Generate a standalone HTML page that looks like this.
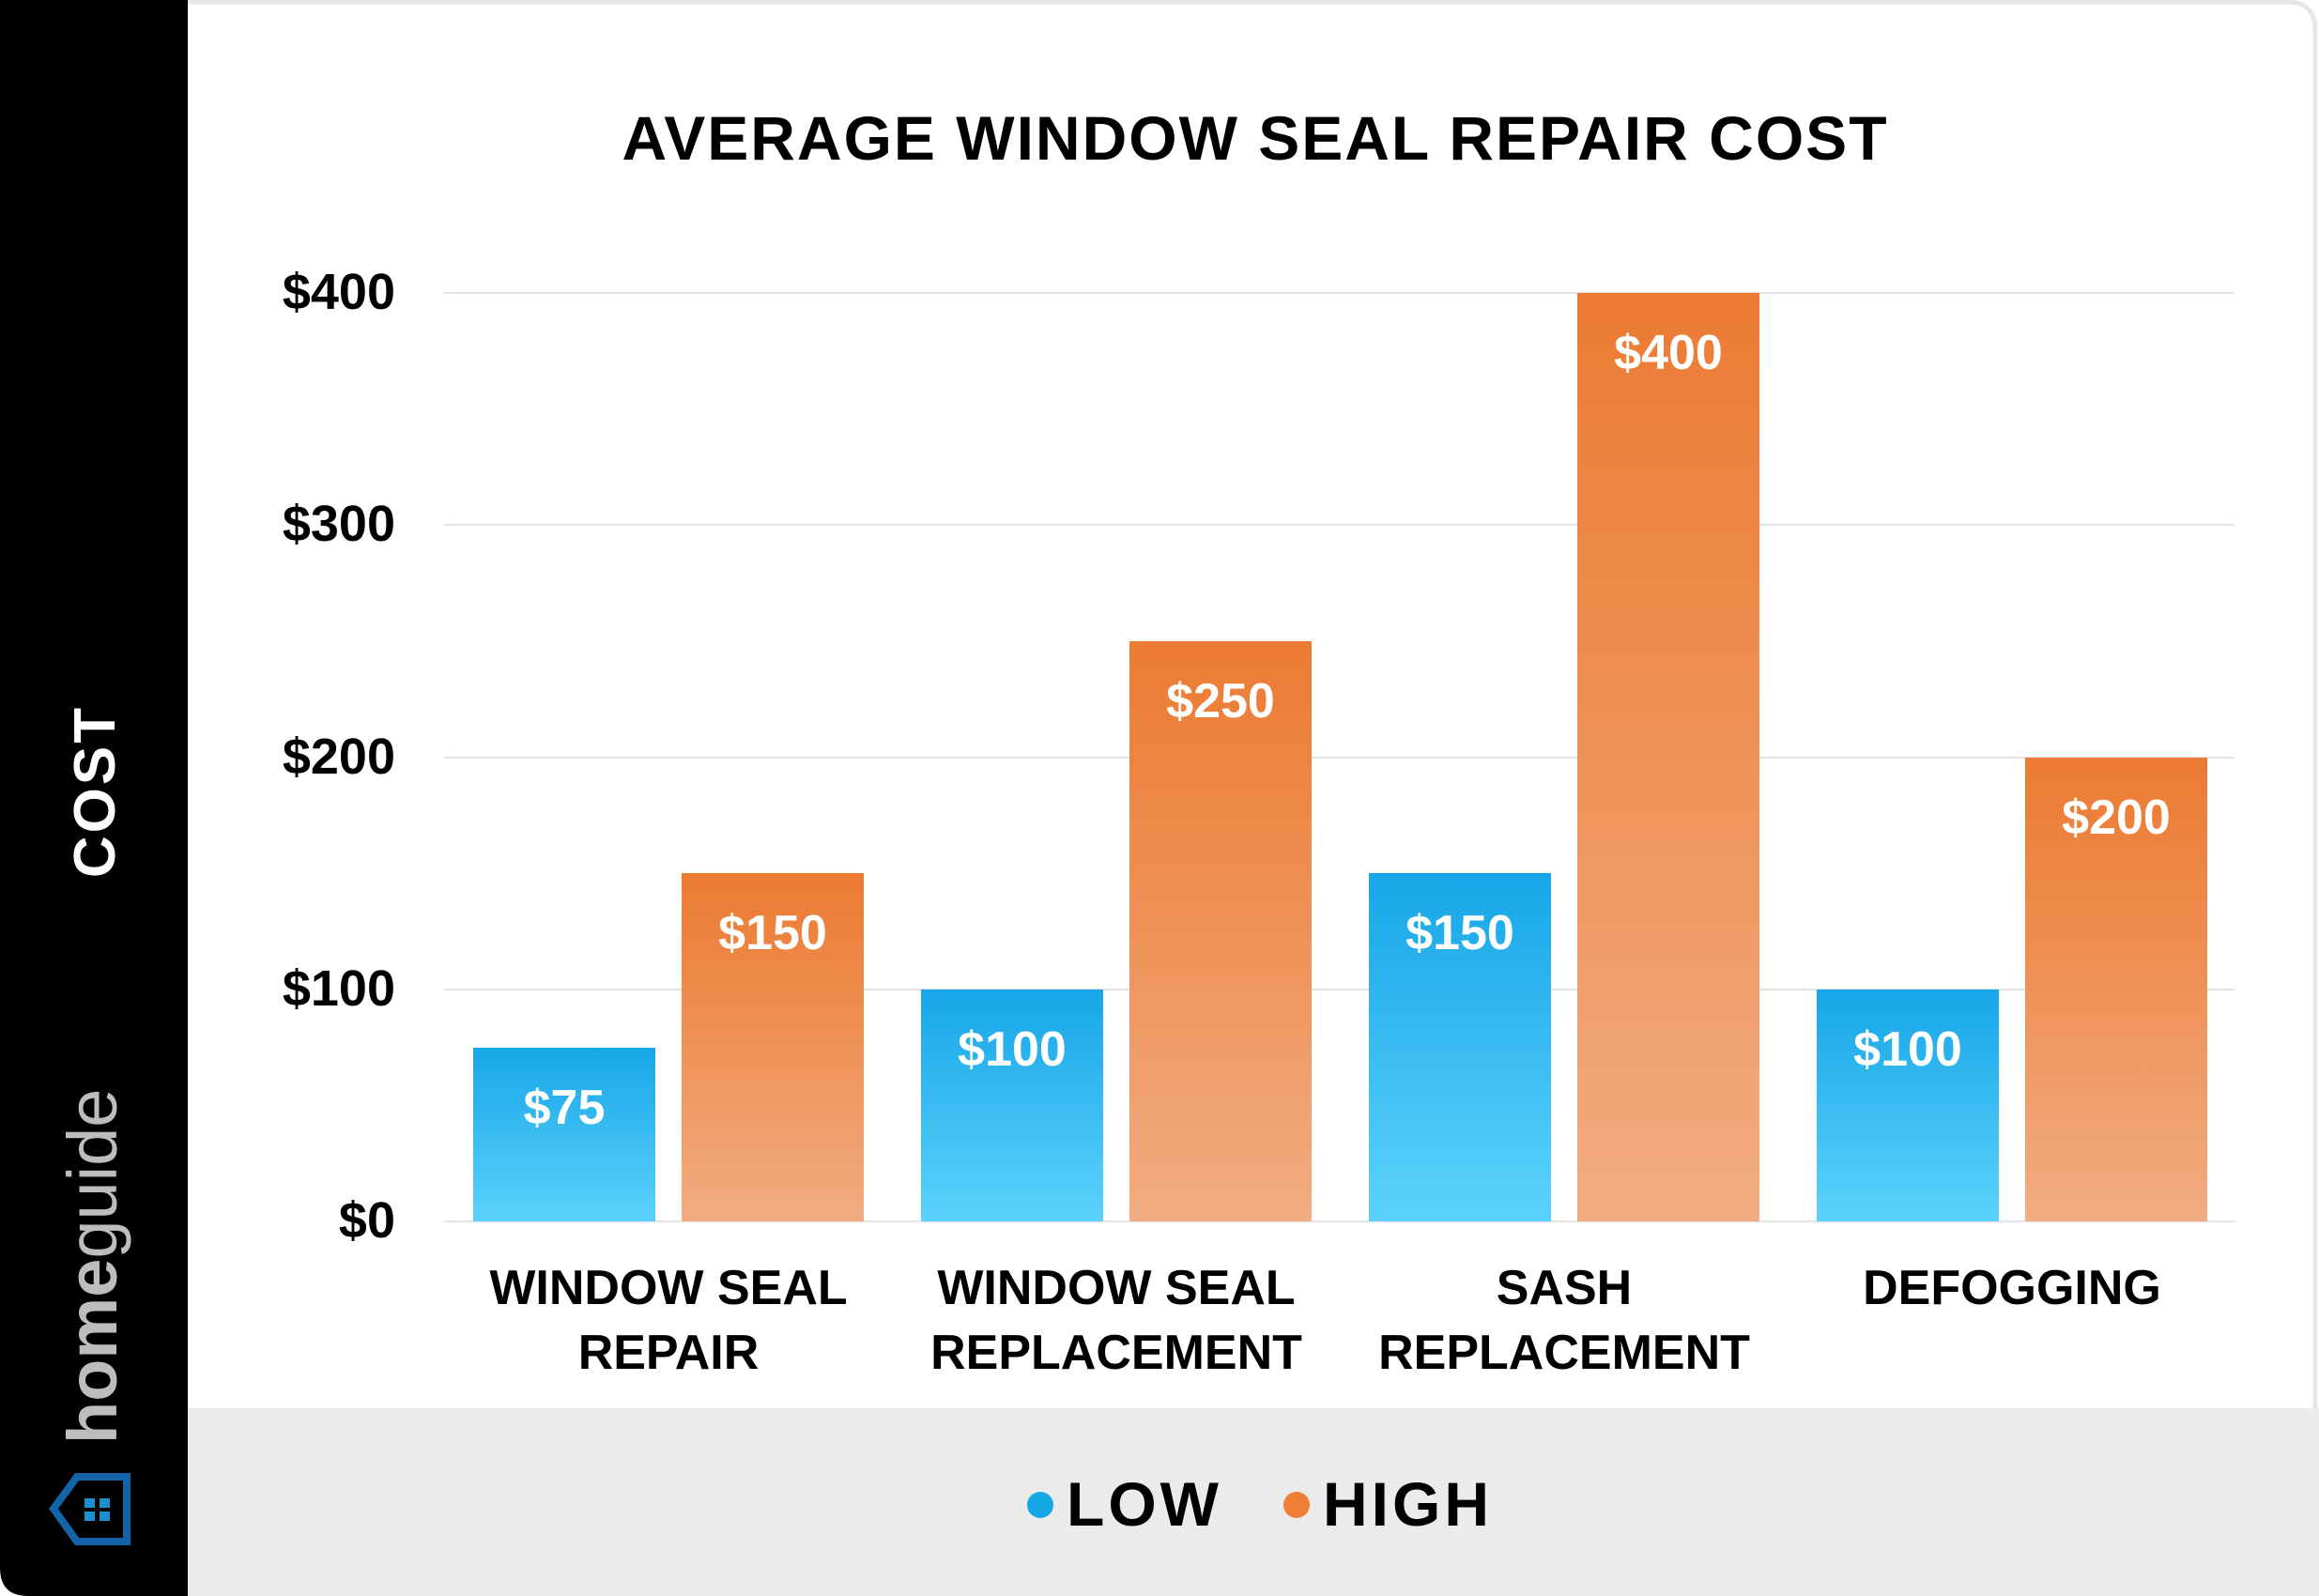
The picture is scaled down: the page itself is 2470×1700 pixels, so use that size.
<!DOCTYPE html>
<html><head><meta charset="utf-8"><style>
html,body{margin:0;padding:0;background:#fff;}
svg{display:block;}
text{font-family:"Liberation Sans",sans-serif;font-weight:bold;}
</style></head><body>
<svg width="2470" height="1700" viewBox="0 0 2470 1700" xmlns="http://www.w3.org/2000/svg">
<defs>
<linearGradient id="b" x1="0" y1="0" x2="0" y2="1"><stop offset="0" stop-color="#17a6e8"/><stop offset="1" stop-color="#5cd2fb"/></linearGradient>
<linearGradient id="o" x1="0" y1="0" x2="0" y2="1"><stop offset="0" stop-color="#ec7b33"/><stop offset="0.4" stop-color="#ee8d4f"/><stop offset="1" stop-color="#f2ac82"/></linearGradient>
</defs>
<rect x="0" y="0" width="2470" height="1700" fill="#fff"/>
<path d="M180 2 H2436 Q2466 2 2466 32 V1700" fill="none" stroke="#e6e6e6" stroke-width="5"/>
<rect x="200" y="1500" width="2270" height="200" fill="#ebebeb"/>
<path d="M0 0 H200 V1700 H30 Q0 1700 0 1670 Z" fill="#000"/>
<text transform="translate(122,843) rotate(-90)" text-anchor="middle" font-size="62" fill="#fff" letter-spacing="3">COST</text>
<text transform="translate(124,1538) rotate(-90)" font-size="74" fill="#bdbdbd" style="font-weight:normal"><tspan style="font-weight:bold">home</tspan>guide</text>
<path d="M135 1573 V1642 H82 L57 1607 L82 1573 Z" fill="none" stroke="#1363a8" stroke-width="8" stroke-linejoin="miter"/>
<g fill="#1b8fd0"><rect x="90" y="1596" width="11" height="10"/><rect x="106" y="1596" width="11" height="10"/><rect x="90" y="1610" width="11" height="10"/><rect x="106" y="1610" width="11" height="10"/></g>
<text x="1337" y="170" text-anchor="middle" font-size="66" fill="#000" letter-spacing="2">AVERAGE WINDOW SEAL REPAIR COST</text>
<g stroke="#e3e3e3" stroke-width="2">
<line x1="473" y1="312" x2="2380" y2="312"/><line x1="473" y1="559" x2="2380" y2="559"/><line x1="473" y1="807" x2="2380" y2="807"/><line x1="473" y1="1054" x2="2380" y2="1054"/><line x1="473" y1="1301" x2="2380" y2="1301"/>
</g>
<g font-size="54" fill="#000" text-anchor="end">
<text x="421" y="329">$400</text><text x="421" y="576">$300</text><text x="421" y="824">$200</text><text x="421" y="1071">$100</text><text x="421" y="1318">$0</text>
</g>
<g>
<rect x="504" y="1116" width="194" height="185" fill="url(#b)"/>
<rect x="726" y="930" width="194" height="371" fill="url(#o)"/>
<rect x="981" y="1054" width="194" height="247" fill="url(#b)"/>
<rect x="1203" y="683" width="194" height="618" fill="url(#o)"/>
<rect x="1458" y="930" width="194" height="371" fill="url(#b)"/>
<rect x="1680" y="312" width="194" height="989" fill="url(#o)"/>
<rect x="1935" y="1054" width="194" height="247" fill="url(#b)"/>
<rect x="2157" y="807" width="194" height="494" fill="url(#o)"/>
</g>
<g font-size="52" fill="#fff" text-anchor="middle">
<text x="601" y="1197">$75</text><text x="823" y="1011">$150</text>
<text x="1078" y="1135">$100</text><text x="1300" y="764">$250</text>
<text x="1555" y="1011">$150</text><text x="1777" y="393">$400</text>
<text x="2032" y="1135">$100</text><text x="2254" y="888">$200</text>
</g>
<g font-size="52" fill="#000" text-anchor="middle">
<text x="712" y="1389">WINDOW SEAL</text><text x="712" y="1458">REPAIR</text>
<text x="1189" y="1389">WINDOW SEAL</text><text x="1189" y="1458">REPLACEMENT</text>
<text x="1666" y="1389">SASH</text><text x="1666" y="1458">REPLACEMENT</text>
<text x="2143" y="1389">DEFOGGING</text>
</g>
<circle cx="1108" cy="1603" r="14" fill="#14a7e6"/>
<text x="1136" y="1625" font-size="66" fill="#000" letter-spacing="4">LOW</text>
<circle cx="1381" cy="1603" r="14" fill="#ee7d36"/>
<text x="1409" y="1625" font-size="66" fill="#000" letter-spacing="4">HIGH</text>
</svg>
</body></html>
